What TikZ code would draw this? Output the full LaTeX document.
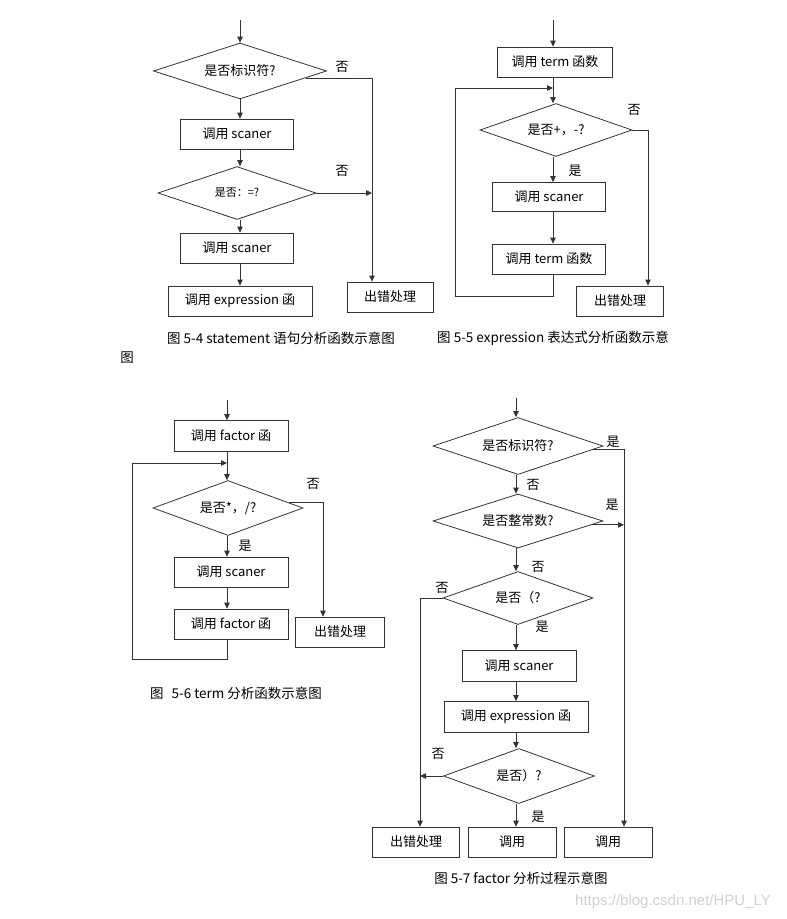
\documentclass[tikz,border=0pt]{standalone}
\usepackage{fontspec}
\setmainfont{Noto Sans CJK SC}
\newfontfamily\wmfont{Liberation Sans}
\usetikzlibrary{shapes.geometric,arrows.meta}

\begin{document}
\begin{tikzpicture}[x=1pt,y=-1pt,
	font=\fontsize{13}{15}\selectfont,
	ln/.style={draw=black!80,line width=0.8pt},
	arr/.style={ln,-{Triangle[length=6pt,width=5.5pt]}},
	proc/.style={ln,rectangle,minimum height=30pt,inner sep=0pt},
	cond/.style={ln,diamond,aspect=3,inner sep=0pt},
	lab/.style={inner sep=0pt},
	capt/.style={inner sep=0pt,font=\fontsize{13.5}{16}\selectfont}]
	\useasboundingbox (0,0) rectangle (787,919);

	%Figure 5-4 statement
	\coordinate (s1) at (240,20);
	\node[cond,minimum width=173pt,minimum height=56pt] (d1) at (240,71) {是否标识符?};
	\node[proc,minimum width=113pt] (b1) at (237,134) {调用 scaner};
	\node[cond,minimum width=158pt,minimum height=53pt,font=\fontsize{11}{13}\selectfont] (d2) at (237,193) {是否：=?};
	\node[proc,minimum width=113pt] (b2) at (237,248) {调用 scaner};
	\node[proc,minimum width=144pt] (b3) at (240,301) {调用 expression 函};
	\node[proc,minimum width=86pt] (e1) at (390,297) {出错处理};
	\coordinate (r1) at ([xshift=-18pt]e1.north);
	\draw[arr] (s1) -- (s1 |- d1.north);
	\draw[arr] (s1 |- d1.south) -- (s1 |- b1.north);
	\draw[arr] (s1 |- b1.south) -- (s1 |- d2.north);
	\draw[arr] (s1 |- d2.south) -- (s1 |- b2.north);
	\draw[arr] (s1 |- b2.south) -- (s1 |- b3.north);
	\draw[arr] (d1.-6) -| (r1);
	\draw[arr] (d2.east) -- (d2.east -| r1);
	\node[lab] (n1) at (342,67) {否};
	\node[lab] (n2) at (342,171) {否};
	\node[capt] (c1) at (281,338) {图 5-4 statement 语句分析函数示意图};
	\node[capt] (c1b) at (127,358) {图};

	%Figure 5-5 expression
	\coordinate (s2) at (553,20);
	\node[proc,minimum width=115pt] (f1) at (555,62) {调用 term 函数};
	\node[cond,minimum width=152pt,minimum height=53pt] (d3) at (556,130) {是否+，-?};
	\node[proc,minimum width=113pt,minimum height=29pt] (b4) at (549,197) {调用 scaner};
	\node[proc,minimum width=113pt] (f2) at (549,259) {调用 term 函数};
	\node[proc,minimum width=87pt] (e2) at (620,301) {出错处理};
	\coordinate (j2) at (553,88);
	\coordinate (l2) at (455,296);
	\coordinate (r2) at ([xshift=28pt]e2.north);
	\draw[arr] (s2) -- (s2 |- f1.north);
	\draw[arr] (s2 |- f1.south) -- (s2 |- d3.north);
	\draw[arr] (s2 |- d3.south) -- (s2 |- b4.north);
	\draw[arr] (s2 |- b4.south) -- (s2 |- f2.north);
	\draw[arr] (f2.south -| j2) |- (l2) |- (j2);
	\draw[arr] (d3.east) -| (r2);
	\node[lab] (n3) at (634,110) {否};
	\node[lab] (y3) at (575,171) {是};
	\node[capt] (c2) at (553,338) {图 5-5 expression 表达式分析函数示意};

	%Figure 5-6 term
	\coordinate (s3) at (227,400);
	\node[proc,minimum width=114pt,minimum height=31pt] (g1) at (231,436) {调用 factor 函};
	\node[cond,minimum width=150pt,minimum height=55pt] (d5) at (228,508) {是否*，/?};
	\node[proc,minimum width=114pt] (b5) at (231,572) {调用 scaner};
	\node[proc,minimum width=114pt] (g2) at (231,624) {调用 factor 函};
	\node[proc,minimum width=89pt] (e3) at (340,632) {出错处理};
	\coordinate (j3) at (227,463);
	\coordinate (l3) at (132,659);
	\coordinate (r3) at ([xshift=-17pt]e3.north);
	\draw[arr] (s3) -- (s3 |- g1.north);
	\draw[arr] (s3 |- g1.south) -- (s3 |- d5.north);
	\draw[arr] (s3 |- d5.south) -- (s3 |- b5.north);
	\draw[arr] (s3 |- b5.south) -- (s3 |- g2.north);
	\draw[arr] (g2.south -| j3) |- (l3) |- (j3);
	\draw[arr] (d5.5) -| (r3);
	\node[lab] (n5) at (313,484) {否};
	\node[lab] (y5) at (245,546) {是};
	\node[capt] (c3) at (236,693) {图\hspace{0.6em}5-6 term 分析函数示意图};

	%Figure 5-7 factor
	\coordinate (s4) at (516,398);
	\node[cond,minimum width=170pt,minimum height=57pt] (d6) at (518,446) {是否标识符?};
	\node[cond,minimum width=170pt,minimum height=54pt] (d7) at (518,521) {是否整常数?};
	\node[cond,minimum width=150pt,minimum height=53pt] (d8) at (518,598) {是否（?};
	\node[proc,minimum width=114pt,minimum height=31pt] (b6) at (519,666) {调用 scaner};
	\node[proc,minimum width=144pt,minimum height=31pt] (x1) at (516,717) {调用 expression 函};
	\node[cond,minimum width=151pt,minimum height=55pt] (d9) at (519,776) {是否）?};
	\node[proc,minimum width=87pt] (e4) at (416,842) {出错处理};
	\node[proc,minimum width=88pt] (k1) at (512,842) {调用};
	\node[proc,minimum width=88pt] (k2) at (608,842) {调用};
	\coordinate (r4) at ([xshift=16pt]k2.north);
	\coordinate (l4) at ([xshift=4pt]e4.north);
	\draw[arr] (s4) -- (s4 |- d6.north);
	\draw[arr] (s4 |- d6.south) -- (s4 |- d7.north);
	\draw[arr] (s4 |- d7.south) -- (s4 |- d8.north);
	\draw[arr] (s4 |- d8.south) -- (s4 |- b6.north);
	\draw[arr] (s4 |- b6.south) -- (s4 |- x1.north);
	\draw[arr] (s4 |- x1.south) -- (s4 |- d9.north);
	\draw[arr] (s4 |- d9.south) -- (s4 |- k1.north);
	\draw[arr] (d6.-3) -| (r4);
	\draw[arr] (d7.-3) -- (d7.-3 -| r4);
	\draw[arr] (d8.west) -| (l4);
	\draw[arr] (d9.west) -- (d9.west -| l4);
	\node[lab] (y6) at (613,442) {是};
	\node[lab] (n6) at (533,485) {否};
	\node[lab] (y7) at (612,505) {是};
	\node[lab] (n7) at (538,567) {否};
	\node[lab] (n8) at (442,588) {否};
	\node[lab] (y8) at (542,627) {是};
	\node[lab] (n9) at (438,754) {否};
	\node[lab] (y9) at (538,817) {是};
	\node[capt] (c4) at (521,878) {图 5-7 factor 分析过程示意图};
	\node[lab,text=black!18,font=\wmfont\fontsize{15}{17}\selectfont] (wm) at (673,902) {https://blog.csdn.net/HPU\_LY};
\end{tikzpicture}
\end{document}
